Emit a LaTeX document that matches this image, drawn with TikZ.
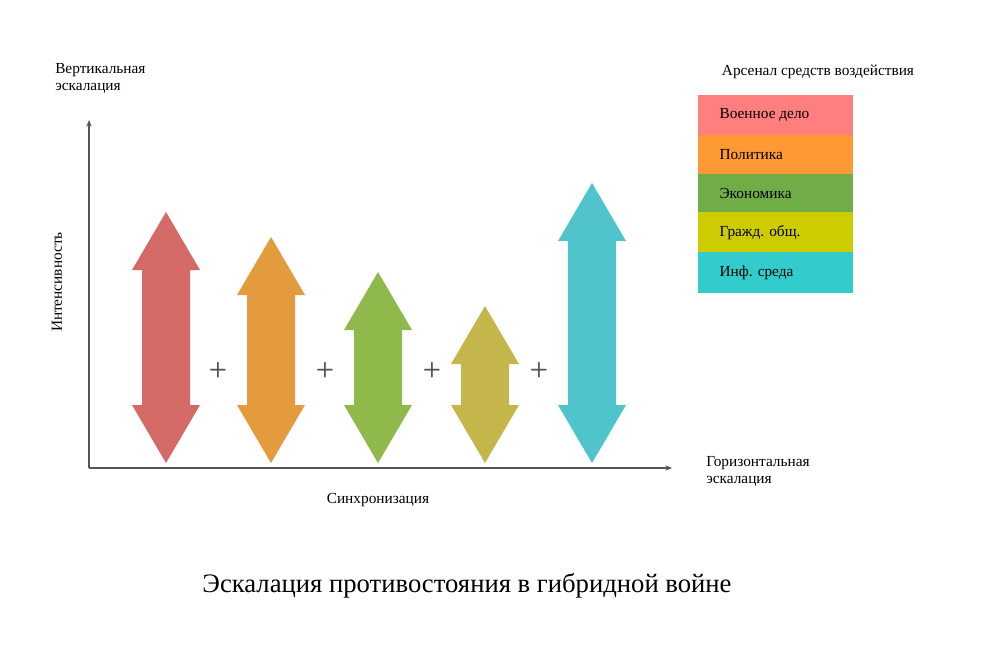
\documentclass[tikz,border=0pt]{standalone}
\usepackage{fontspec}
\setmainfont{Liberation Serif}
\usetikzlibrary{arrows.meta}
\definecolor{axc}{RGB}{85,85,85}
\definecolor{ar1}{RGB}{212,106,102}
\definecolor{ar2}{RGB}{227,155,62}
\definecolor{ar3}{RGB}{143,186,75}
\definecolor{ar4}{RGB}{197,182,75}
\definecolor{ar5}{RGB}{80,196,203}
\definecolor{lg1}{RGB}{255,127,127}
\definecolor{lg2}{RGB}{255,153,51}
\definecolor{lg3}{RGB}{112,173,71}
\definecolor{lg4}{RGB}{204,204,0}
\definecolor{lg5}{RGB}{51,204,204}
\newcommand\dblarr[3]{\fill[#3] (#1,#2) -- ++(34,58) -- ++(-10,0) |- (#1+24,405) -- (#1+34,405) -- (#1,463) -- (#1-34,405) -- (#1-24,405) |- (#1-34,#2+58) -- cycle;}
\begin{document}
\begin{tikzpicture}[x=0.75pt,y=-0.75pt,
  lbl/.style={font=\fontsize{11.5}{13}\selectfont,inner sep=0pt,align=left},
  plus/.style={font=\sffamily\fontsize{16}{16}\selectfont\bfseries,text=axc,inner sep=0pt},
  leg/.style={minimum width=116.25pt,minimum height=#1,inner sep=0pt,anchor=north west}]
\useasboundingbox (0,0) rectangle (991,645);
\coordinate (o) at (89,468);
\coordinate (ytop) at (89,120);
\coordinate (xend) at (672,468);
\draw[axc,line width=1.5pt,-{Stealth[length=5pt,width=4pt]}] (o) -- (ytop);
\draw[axc,line width=1.5pt,-{Stealth[length=5pt,width=4pt]}] (o) -- (xend);
\dblarr{166}{212}{ar1}
\dblarr{271}{237}{ar2}
\dblarr{378}{272}{ar3}
\dblarr{485}{306}{ar4}
\dblarr{592}{183}{ar5}
\node[plus] (p1) at (218,370) {+};
\node[plus] (p2) at (325,370) {+};
\node[plus] (p3) at (432,370) {+};
\node[plus] (p4) at (539,370) {+};
\node[lbl,anchor=north west] (vl) at (55,63) {Вертикальная\\эскалация};
\node[lbl,rotate=90] (int) at (57,282) {Интенсивность};
\node[lbl,anchor=north west] (hl) at (706,456) {Горизонтальная\\эскалация};
\node[lbl] (sync) at (378,500) {Синхронизация};
\node[font=\fontsize{20}{24}\selectfont,inner sep=0pt] (title) at (467,586) {Эскалация противостояния в гибридной войне};
\node[lbl] (ars) at (818,72) {Арсенал средств воздействия};
\node[leg=30pt,fill=lg1] (l1) at (698,95) {};
\node[leg=29.25pt,fill=lg2] (l2) at (698,135) {};
\node[leg=28.5pt,fill=lg3] (l3) at (698,174) {};
\node[leg=30pt,fill=lg4] (l4) at (698,212) {};
\node[leg=30.75pt,fill=lg5] (l5) at (698,252) {};
\node[lbl,anchor=west] at ([xshift=16pt]l1.west) {Военное дело};
\node[lbl,anchor=west] at ([xshift=16pt]l2.west) {Политика};
\node[lbl,anchor=west] at ([xshift=16pt]l3.west) {Экономика};
\node[lbl,anchor=west] at ([xshift=16pt]l4.west) {Гражд. общ.};
\node[lbl,anchor=west] at ([xshift=16pt]l5.west) {Инф. среда};
\end{tikzpicture}
\end{document}
